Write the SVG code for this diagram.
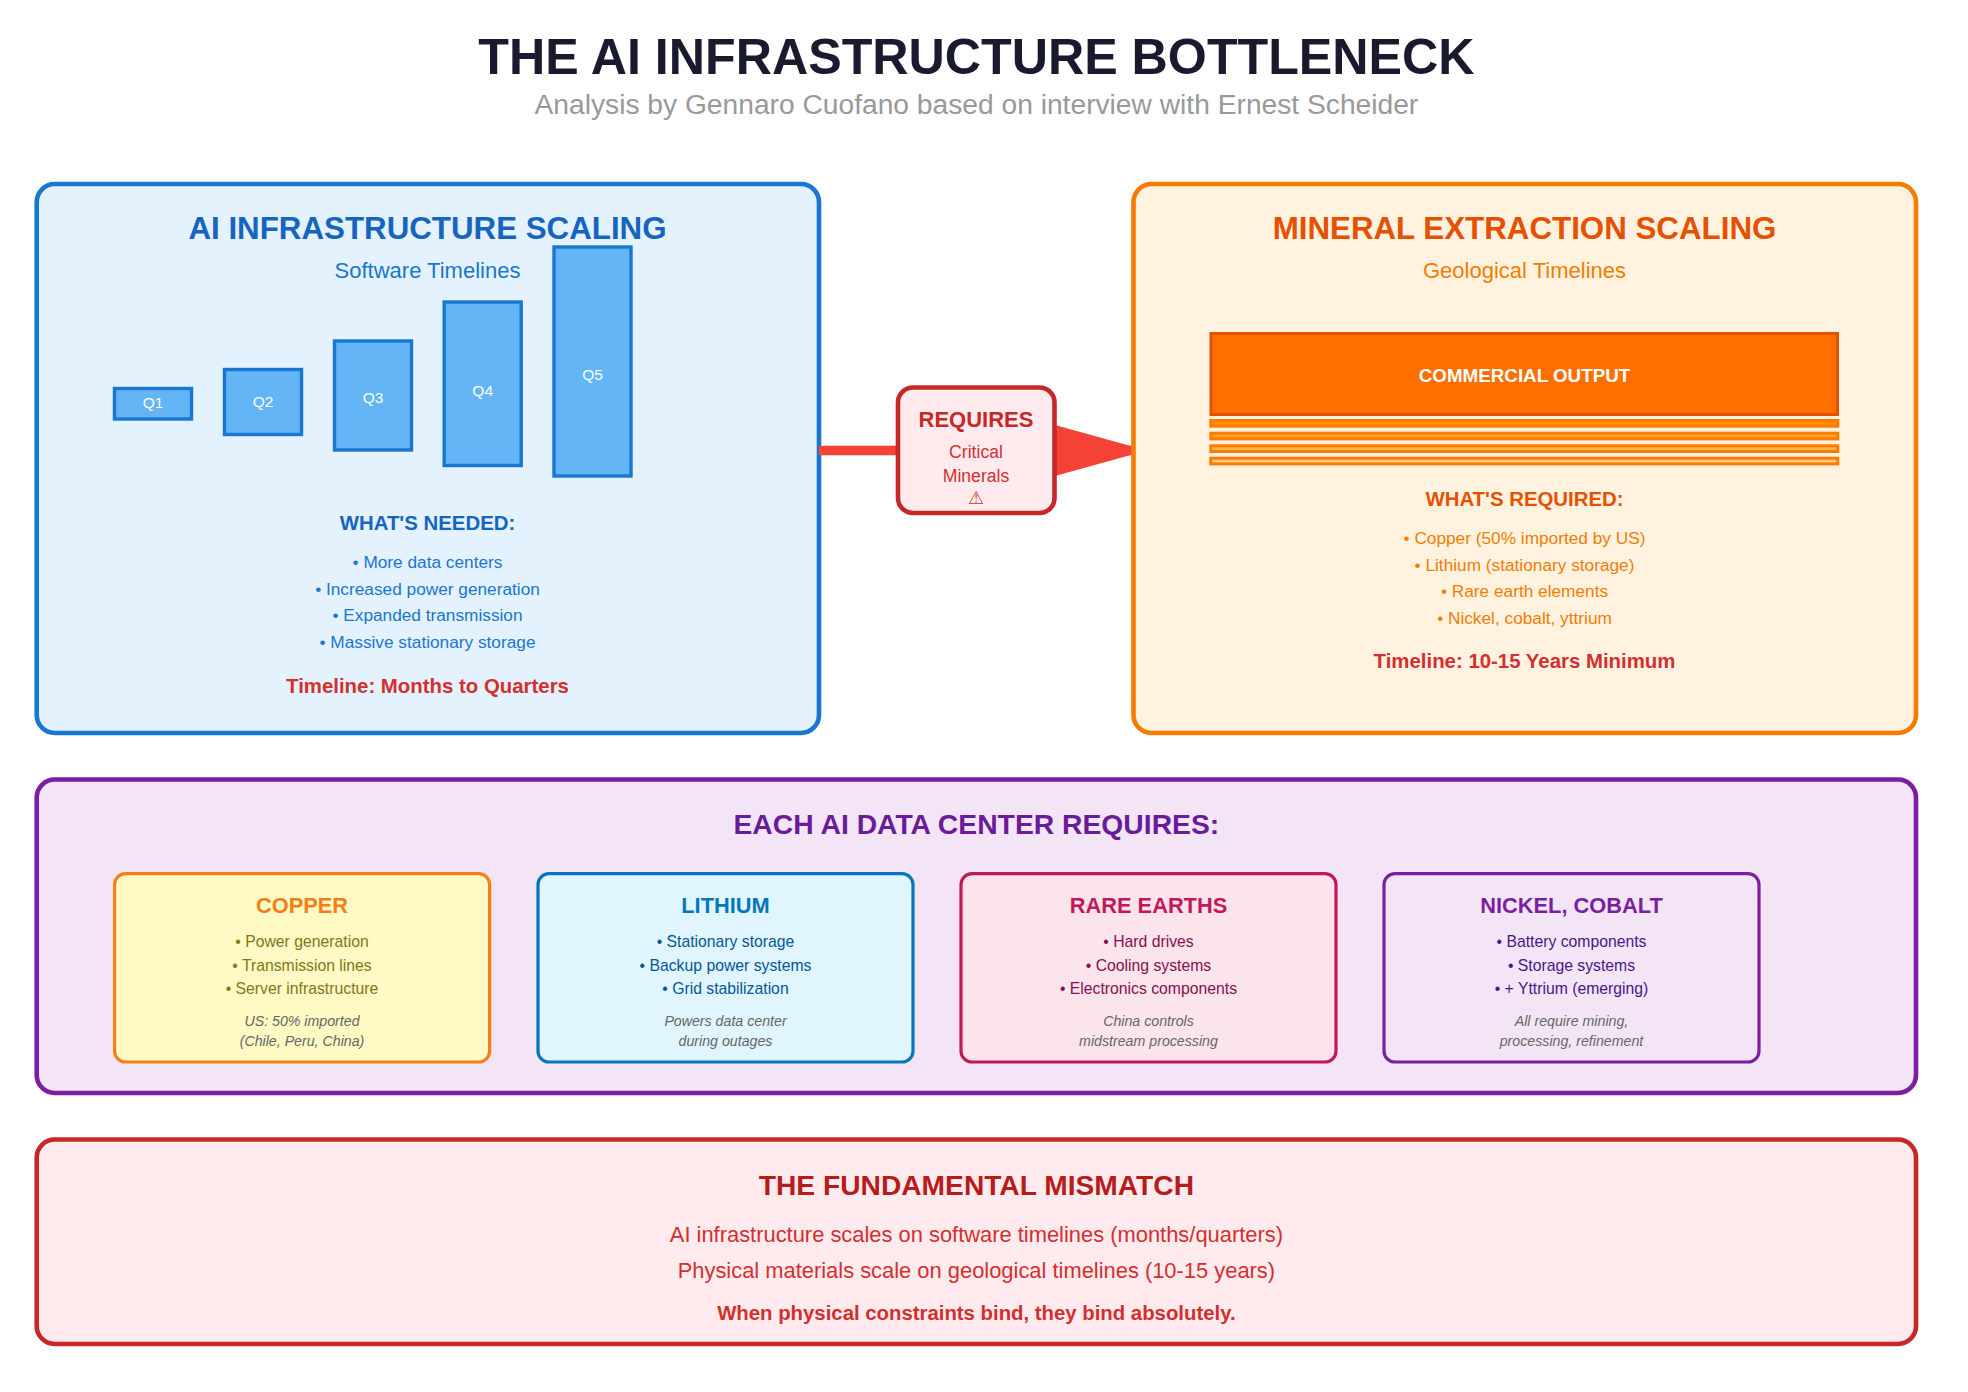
<svg xmlns="http://www.w3.org/2000/svg" width="1968" height="1392" viewBox="0 0 1968 1392">
<defs>
<marker id="arrow" markerUnits="userSpaceOnUse" markerWidth="110" markerHeight="61" viewBox="0 0 110 61" refX="95" refY="30.5" orient="auto"><path d="M0,0 L110,30.5 L0,61 Z" fill="#F44336"/></marker>
</defs>
<style>
text{font-family:"Liberation Sans",Arial,sans-serif;text-anchor:middle}
.b{font-weight:700}
.i{font-style:italic;font-size:14.2px;fill:#666}
.panel{stroke-width:4.6}
.bar{fill:#64B5F6;stroke:#1976D2;stroke-width:3.4}
.q{fill:#fff;font-size:15.5px}
.card{stroke-width:3.2}
.ct{font-size:21.8px;font-weight:700}
.cl{font-size:15.75px}
.pt{font-size:31.3px;font-weight:700}
.ps{font-size:22px}
.ph{font-size:20.4px;font-weight:700}
.pl{font-size:17.25px}
.red{fill:#D32F2F}
.layer{stroke:#FF7A00;stroke-width:3}
</style>
<rect width="1968" height="1392" fill="#fff"/>
<g id="header">
<text x="976.4" y="74" class="b" font-size="50.2" fill="#1A1A2E">THE AI INFRASTRUCTURE BOTTLENECK</text>
<text x="976.4" y="114" font-size="28.2" fill="#999">Analysis by Gennaro Cuofano based on interview with Ernest Scheider</text>
</g>
<g id="ai-scaling">
<rect class="panel" x="36.7" y="184" width="782.3" height="549" rx="18" fill="#E3F2FD" stroke="#1976D2"/>
<text x="427.5" y="239" class="pt" fill="#1565C0">AI INFRASTRUCTURE SCALING</text>
<text x="427.5" y="278" class="ps" fill="#1976D2">Software Timelines</text>
<rect class="bar" x="114.5" y="388.5" width="77" height="30.5"/><text class="q" x="153" y="408">Q1</text>
<rect class="bar" x="224.5" y="369.5" width="77" height="65"/><text class="q" x="263" y="407">Q2</text>
<rect class="bar" x="334.5" y="341" width="77" height="109"/><text class="q" x="373" y="403">Q3</text>
<rect class="bar" x="444.2" y="302" width="77" height="163.5"/><text class="q" x="482.7" y="396">Q4</text>
<rect class="bar" x="554" y="247" width="77" height="229"/><text class="q" x="592.5" y="380">Q5</text>
<text x="427.5" y="530" class="ph" fill="#1565C0">WHAT'S NEEDED:</text>
<g class="pl" fill="#1976D2">
<text x="427.5" y="568">• More data centers</text>
<text x="427.5" y="595">• Increased power generation</text>
<text x="427.5" y="621">• Expanded transmission</text>
<text x="427.5" y="648">• Massive stationary storage</text>
</g>
<text x="427.5" y="693" class="ph red">Timeline: Months to Quarters</text>
</g>
<g id="connectors">
<line x1="819" y1="450.5" x2="1132" y2="450.5" stroke="#F44336" stroke-width="9.4" marker-end="url(#arrow)"/>
</g>
<g id="requires">
<rect x="898" y="387.5" width="156.5" height="125.5" rx="15" fill="#FFEBEE" stroke="#C62828" stroke-width="4.6"/>
<text x="976" y="427" class="b" font-size="22" fill="#C62828">REQUIRES</text>
<g font-size="17.6px" class="red">
<text x="976" y="458">Critical</text>
<text x="976" y="482">Minerals</text>
<text x="976" y="503.5">⚠</text>
</g>
</g>
<g id="mineral-scaling">
<rect class="panel" x="1133.5" y="184" width="782.5" height="549" rx="18" fill="#FFF3E0" stroke="#F57C00"/>
<text x="1524.5" y="239" class="pt" fill="#E65100">MINERAL EXTRACTION SCALING</text>
<text x="1524.5" y="278" class="ps" fill="#F57C00">Geological Timelines</text>
<rect x="1211" y="333.5" width="626.5" height="81" fill="#FF6F00" stroke="#E65100" stroke-width="3"/>
<text x="1524.5" y="382" class="b" font-size="18.8" fill="#fff">COMMERCIAL OUTPUT</text>
<rect class="layer" x="1210.8" y="420.5" width="627" height="5.7" fill="#FF8F00"/>
<rect class="layer" x="1210.8" y="433.2" width="627" height="5.7" fill="#FFA726"/>
<rect class="layer" x="1210.8" y="445.8" width="627" height="5.7" fill="#FFB74D"/>
<rect class="layer" x="1210.8" y="458.2" width="627" height="5.7" fill="#FFCC80"/>
<text x="1524.5" y="505.5" class="ph" fill="#E65100">WHAT'S REQUIRED:</text>
<g class="pl" fill="#F57C00">
<text x="1524.5" y="543.5">• Copper (50% imported by US)</text>
<text x="1524.5" y="570.5">• Lithium (stationary storage)</text>
<text x="1524.5" y="597">• Rare earth elements</text>
<text x="1524.5" y="624">• Nickel, cobalt, yttrium</text>
</g>
<text x="1524.5" y="667.5" class="ph red">Timeline: 10-15 Years Minimum</text>
</g>
<g id="data-center">
<rect class="panel" x="36.7" y="779.5" width="1879.3" height="313.5" rx="18" fill="#F3E5F5" stroke="#7B1FA2"/>
<text x="976.4" y="834" class="b" font-size="28.3" fill="#6A1B9A">EACH AI DATA CENTER REQUIRES:</text>
</g>
<g id="copper">
<rect class="card" x="114.6" y="873.6" width="375" height="188.4" rx="11" fill="#FFF9C4" stroke="#F57F17"/>
<text class="ct" x="302" y="913" fill="#F57F17">COPPER</text>
<g class="cl" fill="#827717"><text x="302" y="946.7">• Power generation</text><text x="302" y="970.5">• Transmission lines</text><text x="302" y="993.5">• Server infrastructure</text></g>
<text class="i" x="302" y="1026">US: 50% imported</text><text class="i" x="302" y="1046">(Chile, Peru, China)</text>
</g>
<g id="lithium">
<rect class="card" x="538" y="873.6" width="375" height="188.4" rx="11" fill="#E1F5FE" stroke="#0277BD"/>
<text class="ct" x="725.5" y="913" fill="#0277BD">LITHIUM</text>
<g class="cl" fill="#01579B"><text x="725.5" y="946.7">• Stationary storage</text><text x="725.5" y="970.5">• Backup power systems</text><text x="725.5" y="993.5">• Grid stabilization</text></g>
<text class="i" x="725.5" y="1026">Powers data center</text><text class="i" x="725.5" y="1046">during outages</text>
</g>
<g id="rare-earths">
<rect class="card" x="961" y="873.6" width="375" height="188.4" rx="11" fill="#FCE4EC" stroke="#C2185B"/>
<text class="ct" x="1148.5" y="913" fill="#C2185B">RARE EARTHS</text>
<g class="cl" fill="#880E4F"><text x="1148.5" y="946.7">• Hard drives</text><text x="1148.5" y="970.5">• Cooling systems</text><text x="1148.5" y="993.5">• Electronics components</text></g>
<text class="i" x="1148.5" y="1026">China controls</text><text class="i" x="1148.5" y="1046">midstream processing</text>
</g>
<g id="nickel-cobalt">
<rect class="card" x="1384" y="873.6" width="375" height="188.4" rx="11" fill="#F3E5F5" stroke="#7B1FA2"/>
<text class="ct" x="1571.5" y="913" fill="#7B1FA2">NICKEL, COBALT</text>
<g class="cl" fill="#4A148C"><text x="1571.5" y="946.7">• Battery components</text><text x="1571.5" y="970.5">• Storage systems</text><text x="1571.5" y="993.5">• + Yttrium (emerging)</text></g>
<text class="i" x="1571.5" y="1026">All require mining,</text><text class="i" x="1571.5" y="1046">processing, refinement</text>
</g>
<g id="mismatch">
<rect class="panel" x="36.7" y="1139.5" width="1879.3" height="204.5" rx="18" fill="#FFEBEE" stroke="#C62828"/>
<text x="976.4" y="1195" class="b" font-size="28.2" fill="#B71C1C">THE FUNDAMENTAL MISMATCH</text>
<text x="976.4" y="1241.5" font-size="21.9" class="red">AI infrastructure scales on software timelines (months/quarters)</text>
<text x="976.4" y="1278" font-size="21.9" class="red">Physical materials scale on geological timelines (10-15 years)</text>
<text x="976.4" y="1319.5" font-size="20.35" class="b red">When physical constraints bind, they bind absolutely.</text>
</g>
</svg>
